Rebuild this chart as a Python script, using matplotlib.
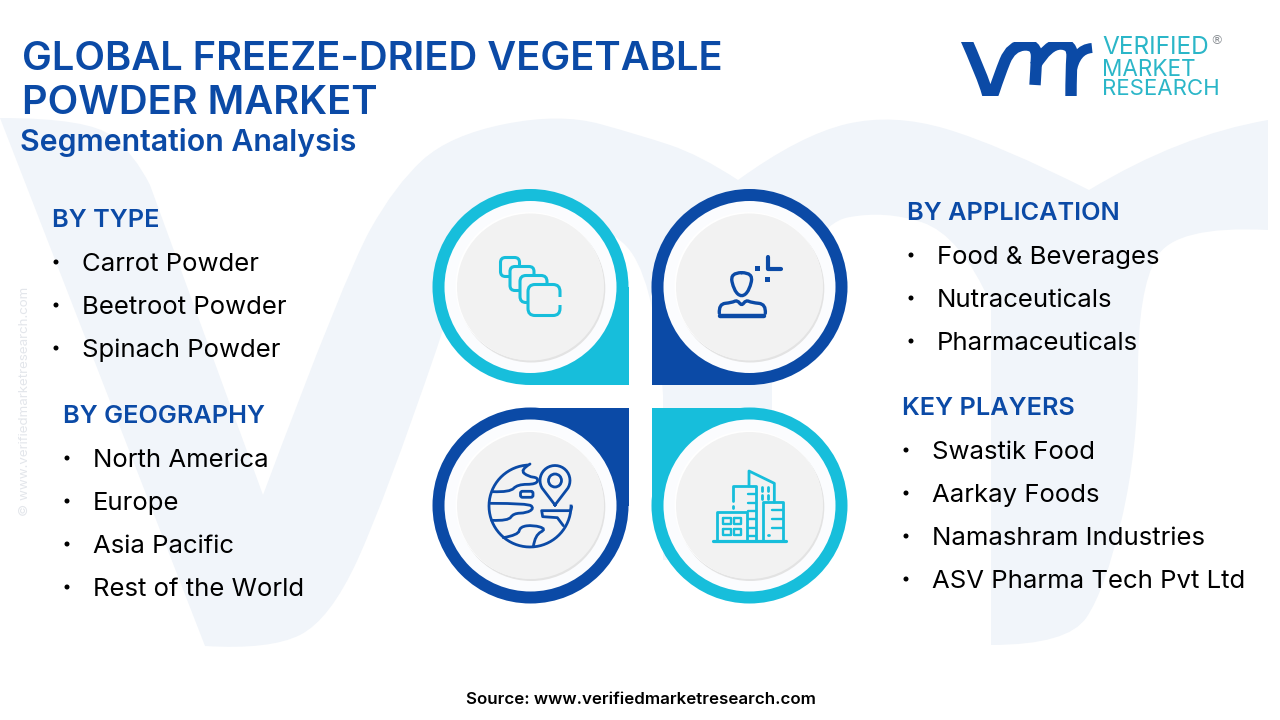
from math import cos, sin, radians

import matplotlib
matplotlib.use('Agg')
import matplotlib.pyplot as plt
from matplotlib.patches import Circle, Rectangle, FancyBboxPatch, PathPatch
from matplotlib.path import Path

BLUE = '#0B4AA6'
TEAL = '#17BEDB'
PALE = '#F1F5FA'
DISC = '#F2F2F2'

title_lines = ['GLOBAL FREEZE-DRIED VEGETABLE', 'POWDER MARKET']
subtitle = 'Segmentation Analysis'
source = 'Source: www.verifiedmarketresearch.com'
watermark = '© www.verifiedmarketresearch.com'
logo_words = ['VERIFIED', 'MARKET', 'RESEARCH']

by_type = ['Carrot Powder', 'Beetroot Powder', 'Spinach Powder']
by_geography = ['North America', 'Europe', 'Asia Pacific', 'Rest of the World']
by_application = ['Food & Beverages', 'Nutraceuticals', 'Pharmaceuticals']
key_players = ['Swastik Food', 'Aarkay Foods', 'Namashram Industries', 'ASV Pharma Tech Pvt Ltd']

plt.rcParams['font.family'] = ['Inter', 'DejaVu Sans']

fig = plt.figure(figsize=(12.8, 7.2), dpi=100)
ax = fig.add_axes([0, 0, 1, 1])
ax.set_xlim(0, 1280)
ax.set_ylim(720, 0)
ax.axis('off')


def curve_section(points):
    """Quadratic curve through the midpoints of the given points."""
    verts = []
    codes = []
    for i in range(1, len(points) - 1):
        if i < len(points) - 2:
            end = ((points[i][0] + points[i + 1][0]) / 2, (points[i][1] + points[i + 1][1]) / 2)
        else:
            end = points[-1]
        verts += [points[i], end]
        codes += [Path.CURVE3, Path.CURVE3]
    return verts, codes


def smooth(points):
    verts, codes = curve_section(points)
    return Path([points[0]] + verts, [Path.MOVETO] + codes)


def draw_background():
    # big pale "vmr" behind everything, each section is one smooth run
    sections = [
        [(0, 118), (90, 118), (135, 155), (150, 185)],
        [(263, 495), (345, 275), (395, 185), (450, 135), (560, 113), (640, 135), (700, 155), (738, 180)],
        [(738, 180), (800, 135), (893, 113), (1000, 145), (1089, 190)],
        [(1089, 190), (1180, 135), (1268, 120)],
        [(1268, 230), (1175, 225), (1138, 290), (1138, 450), (1105, 590), (1068, 645), (991, 645)],
        [(991, 304), (960, 235), (885, 210), (810, 225), (772, 330)],
        [(772, 560), (663, 560)],
        [(663, 395), (655, 270), (590, 215), (510, 195), (455, 290), (437, 348)],
        [(437, 348), (385, 500), (330, 620), (270, 650), (205, 646)],
    ]
    verts = [sections[0][0]]
    codes = [Path.MOVETO]
    for sec in sections:
        if sec is not sections[0]:
            verts.append(sec[0])
            codes.append(Path.LINETO)
        if len(sec) > 2:
            v, c = curve_section(sec)
            verts += v
            codes += c
        else:
            verts.append(sec[1])
            codes.append(Path.LINETO)
    verts.append(sections[0][0])
    codes.append(Path.CLOSEPOLY)
    ax.add_patch(PathPatch(Path(verts, codes), fc=PALE, ec='none', zorder=0))


def draw_badge(cx, cy, color, corner):
    ax.add_patch(Circle((cx, cy), 98, fc=color, ec='none', zorder=2))
    qx = cx if corner[0] > 0 else cx - 98
    qy = cy if corner[1] > 0 else cy - 98
    ax.add_patch(Rectangle((qx, qy), 98, 98, fc=color, ec='none', zorder=2))
    ax.add_patch(Circle((cx, cy), 86, fc='#FBFCFE', ec='none', zorder=3))
    ax.add_patch(Circle((cx + 0.8, cy + 1.5), 74, fc='#E3E3E3', ec='none', zorder=4))
    ax.add_patch(Circle((cx - 1, cy - 1), 74, fc='white', ec='none', zorder=4))
    ax.add_patch(Circle((cx, cy), 73.5, fc=DISC, ec='none', zorder=5))


def to_real(origin, pts):
    return [(origin[0] + x / 3, origin[1] + y / 3) for x, y in pts]


def icon_line(origin, pts, color, lw=2.0, closed=False):
    xy = to_real(origin, pts)
    if closed:
        xy.append(xy[0])
    xs, ys = zip(*xy)
    ax.plot(xs, ys, color=color, lw=lw, solid_joinstyle='round', solid_capstyle='round', zorder=6)


def icon_curve(origin, pts, color, lw=2.0):
    ax.add_patch(PathPatch(smooth(to_real(origin, pts)), fc='none', ec=color, lw=lw, capstyle='round', zorder=6))


def draw_squares():
    boxes = [(500.5, 257.5, 19, 19, 5), (510, 266.5, 24, 24, 5), (520, 275.5, 27, 27, 6), (528, 284.5, 32, 31, 7)]
    for x, y, w, h, r in boxes:
        ax.add_patch(FancyBboxPatch((x + r, y + r), w - 2 * r, h - 2 * r, boxstyle=f'round,pad={r}',
                                    fc=DISC, ec=TEAL, lw=2.2, zorder=6))
    ax.add_patch(Rectangle((556, 297), 8, 8, fc=DISC, ec='none', zorder=6))


def draw_person():
    o = (640, 180)
    icon_curve(o, [(305, 278), (270, 278), (282, 332), (305, 352), (328, 332), (340, 278), (305, 278)], BLUE, 2.4)
    icon_curve(o, [(376, 400), (378, 372), (335, 368), (318, 360), (305, 378), (292, 360), (275, 368), (236, 372), (238, 400)], BLUE, 2.4)
    icon_line(o, [(240, 407), (373, 407)], BLUE, 3.2)
    icon_line(o, [(385, 232), (385, 267), (423, 267)], BLUE, 3.0)
    for sx, sy in [(352, 265), (383, 297)]:
        ax.add_patch(Rectangle((640 + sx / 3 - 2.5, 180 + sy / 3 - 2.5), 5, 5, fc=BLUE, ec='none', zorder=6))


def draw_globe():
    o = (420, 395)
    cx, cy, r = 530, 506, 41
    angles = range(95, 361, 5)
    ax.plot([cx + r * cos(radians(a)) for a in angles], [cy - r * sin(radians(a)) for a in angles],
            color=BLUE, lw=2.0, zorder=6)
    icon_curve(o, [(330, 207), (300, 225), (325, 245), (355, 248), (350, 268), (292, 268), (270, 292), (218, 290)], BLUE)
    icon_curve(o, [(212, 325), (325, 325), (342, 340), (320, 354), (280, 355), (265, 378), (215, 376)], BLUE)
    icon_curve(o, [(250, 428), (295, 420), (300, 395), (340, 390), (380, 402), (345, 420), (340, 455)], BLUE)
    icon_line(o, [(455, 335), (452, 347), (365, 347), (368, 365), (412, 368), (430, 392)], BLUE)
    ax.add_patch(FancyBboxPatch((522.5, 493.3), 8.5, 2, boxstyle='round,pad=2', fc='none', ec=BLUE, lw=2.0, zorder=6))
    # map pin, head arc plus the tip
    px, py, pr = 555, 480.5, 15
    pin = [(px + pr * cos(radians(a)), py - pr * sin(radians(a))) for a in range(-30, 211, 10)]
    pin = [(px, py + 24.5)] + pin + [(px, py + 24.5)]
    xs, ys = zip(*pin)
    ax.plot(xs, ys, color=BLUE, lw=2.0, solid_joinstyle='round', zorder=6)
    ax.add_patch(Circle((px, py), 6.5, fc='none', ec=BLUE, lw=2.0, zorder=6))


def draw_buildings():
    o = (640, 395)
    icon_line(o, [(220, 437), (437, 437)], TEAL, 2.3)
    icon_line(o, [(230, 437), (230, 352), (320, 352), (320, 437)], TEAL)
    for wx, wy in [(250, 370), (282, 370), (250, 403), (282, 403)]:
        icon_line(o, [(wx, wy), (wx + 22, wy), (wx + 22, wy + 18), (wx, wy + 18)], TEAL, 1.7, closed=True)
    icon_line(o, [(280, 318), (280, 273), (348, 273), (348, 437)], TEAL)
    icon_line(o, [(280, 333), (280, 338)], TEAL)
    for ry in [298, 323, 348, 373, 398, 422]:
        icon_line(o, [(325, ry), (348, ry)], TEAL, 1.7)
    icon_line(o, [(327, 273), (327, 228), (403, 265), (403, 322)], TEAL)
    for wx, wy in [(367, 275), (385, 275), (367, 300), (385, 300)]:
        icon_line(o, [(wx, wy), (wx, wy + 12)], TEAL, 2.0)
    icon_line(o, [(370, 437), (370, 322), (428, 322), (428, 437)], TEAL)
    for ry in [345, 372, 398]:
        icon_line(o, [(395, ry), (428, ry)], TEAL, 1.7)
    for dx in [385, 405]:
        icon_line(o, [(dx, 420), (dx + 1, 420)], TEAL, 2.0)


def draw_logo():
    strokes = [
        ([(962, 30), (984, 80), (990, 104), (999, 76), (1011, 46), (1037, 44), (1036, 70), (1035, 85)], 8.2),
        ([(1035, 66), (1048, 44), (1073, 44), (1071, 70), (1071, 98)], 8.2),
        ([(1071, 74), (1075, 49), (1092, 48)], 7.2),
    ]
    clip = Rectangle((950, 42), 150, 54, transform=ax.transData)
    for pts, lw in strokes:
        patch = PathPatch(smooth(pts), fc='none', ec=BLUE, lw=lw, capstyle='butt', zorder=6)
        ax.add_patch(patch)
        patch.set_clip_path(clip)
    for word, y, size in zip(logo_words, [54, 76, 95], [17.6, 16.2, 16.0]):
        ax.text(1102, y, word, color='#2BB6C8', fontsize=size, va='baseline', zorder=6)
    ax.text(1217, 41, '®', color='#8A8F94', fontsize=9, family='DejaVu Sans', ha='center', va='center', zorder=6)


def draw_list(header, items, header_x, bullet_x, text_x, header_y):
    ax.text(header_x, header_y + 0.7, header, color=BLUE, fontsize=18.2, fontweight='semibold', va='baseline', zorder=6)
    for i, item in enumerate(items):
        y = header_y + 44 + 43 * i
        ax.add_patch(Circle((bullet_x, y - 8), 2.5, fc='black', ec='none', zorder=6))
        ax.text(text_x, y + 0.7, item, color='black', fontsize=18.5, va='baseline', zorder=6)


draw_background()

for i, line in enumerate(title_lines):
    ax.text(22, 70 + 44 * i, line, color=BLUE, fontsize=28.7, fontweight='semibold', va='baseline', zorder=6)
ax.text(20, 150.7, subtitle, color=BLUE, fontsize=21.8, fontweight='semibold', va='baseline', zorder=6)
ax.text(641, 703.7, source, color='black', fontsize=12.2, fontweight='semibold', ha='center', va='baseline', zorder=6)
ax.text(25, 401, watermark, color='#E3E6EB', fontsize=9.6, rotation=90, ha='center', va='center', zorder=1)

draw_badge(530.5, 287, TEAL, (1, 1))
draw_badge(749.5, 287, BLUE, (-1, 1))
draw_badge(530.5, 505.5, BLUE, (1, -1))
draw_badge(749.5, 505.5, TEAL, (-1, -1))
draw_squares()
draw_person()
draw_globe()
draw_buildings()
draw_logo()

draw_list('BY TYPE', by_type, 52, 56, 82, 226)
draw_list('BY GEOGRAPHY', by_geography, 63, 67, 93, 422)
draw_list('BY APPLICATION', by_application, 907, 911, 937, 219)
draw_list('KEY PLAYERS', key_players, 902, 906, 932, 414)

fig.savefig('out.png', dpi=100)
